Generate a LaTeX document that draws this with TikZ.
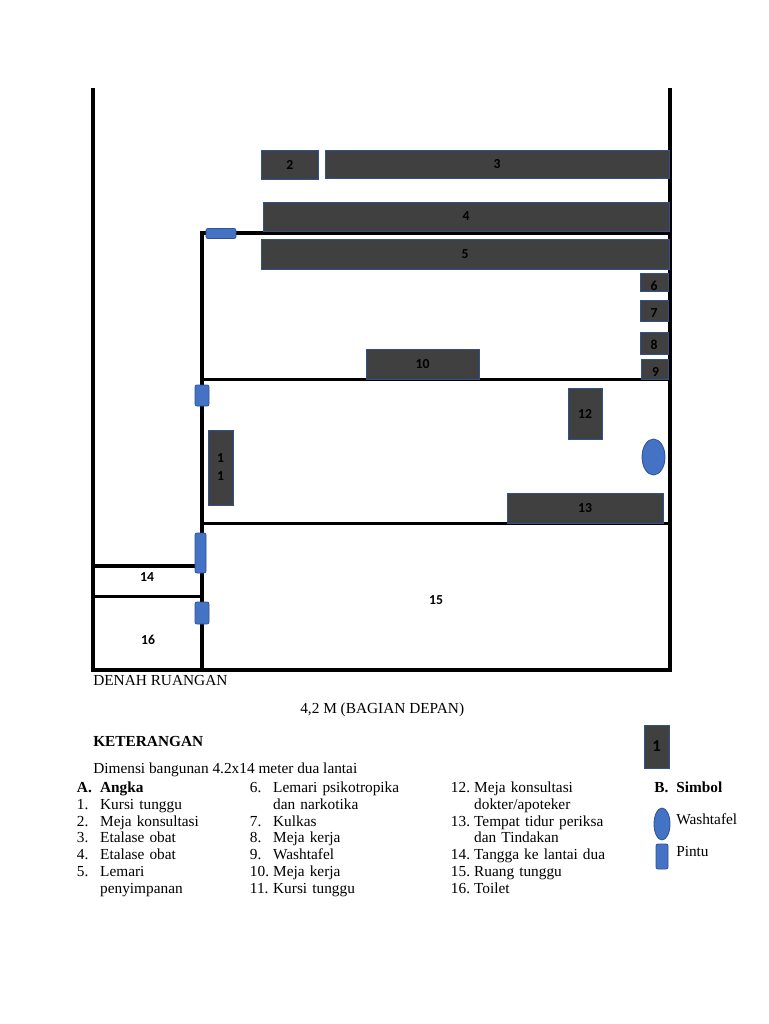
\documentclass[tikz,border=0pt]{standalone}
\usepackage{fontspec}
\setmainfont{Liberation Serif}
\newfontfamily\numfont{Carlito}
\usetikzlibrary{positioning,shapes.geometric}
\definecolor{furnfill}{HTML}{404040}
\definecolor{bluefill}{HTML}{4472C4}
\definecolor{blueline}{HTML}{2F528F}
\newcommand{\itm}[2]{\makebox[17.4pt][l]{#1}#2}

\begin{document}
\begin{tikzpicture}[x=0.75pt,y=-0.75pt,node distance=12.63pt,on grid,
	furn/.style 2 args={draw=blueline,fill=furnfill,line width=0.6pt,inner sep=0pt,minimum width=#1*0.75pt,minimum height=#2*0.75pt,font=\numfont\bfseries\fontsize{10.3}{13}\selectfont},
	door/.style 2 args={draw=blueline,fill=bluefill,line width=0.6pt,rounded corners=1.5pt,inner sep=0pt,minimum width=#1*0.75pt,minimum height=#2*0.75pt},
	basin/.style 2 args={ellipse,draw=blueline,fill=bluefill,line width=0.6pt,inner sep=0pt,minimum width=#1*0.75pt,minimum height=#2*0.75pt},
	numtext/.style={inner sep=0pt,font=\numfont\bfseries\fontsize{10.3}{13}\selectfont},
	plain/.style={inner sep=0pt,anchor=base west,font=\fontsize{11.5}{13}\selectfont},
	entry/.style={inner sep=0pt,text width=125pt,align=left,text height=7pt,text depth=2pt,font=\fontsize{11.5}{13}\selectfont},
	thick wall/.style={line width=3pt},
	thin wall/.style={line width=2.25pt}]
	\useasboundingbox (0,0) rectangle (768,1024);

	% walls
	\coordinate (lt) at (93,88);
	\coordinate (rt) at (670,88);
	\coordinate (lb) at (93,670);
	\coordinate (rb) at (670,670);
	\coordinate (it) at (202,233);
	\coordinate (ib) at (202,670);
	\coordinate (rt1) at (670,233);
	\coordinate (il2) at (202,379.5);
	\coordinate (rt2) at (670,379.5);
	\coordinate (il3) at (202,523.5);
	\coordinate (rt3) at (670,523.5);
	\coordinate (sl) at (93,566);
	\coordinate (sr) at (202,566);
	\coordinate (tl) at (93,596.5);
	\coordinate (tr) at (202,596.5);

	\draw[thick wall] (lt) -- (lb) -- (rb) -- (rt);
	\draw[thick wall] (rt1) -- (it) -- (ib);
	\draw[thin wall] (il2) -- (rt2);
	\draw[thin wall] (il3) -- (rt3);
	\draw[thick wall] (sl) -- (sr);
	\draw[thin wall] (tl) -- (tr);

	% furniture
	\node[furn={57.5}{29}]  (f2)  at (289.75,164.5) {2};
	\node[furn={344}{28}] (f3)  at (497,164)   {3};
	\node[furn={406}{29}] (f4)  at (466,216.5) {4};
	\node[furn={408}{30}] (f5)  at (465,254) {5};
	\node[furn={28}{18}]  (f6)  at (654,282)   {};
	\node[furn={28}{21}]  (f7)  at (654,310.5) {};
	\node[furn={28}{22}]  (f8)  at (654,343)   {};
	\node[furn={27}{20}]  (f9)  at (655,369) {};
	\node[furn={113}{30}] (f10) at (422.5,364.5) {10};
	\node[furn={25}{75},align=center] (f11) at (220.5,467.5) {1\\[0.5pt]1};
	\node[furn={34}{51}]  (f12) at (585,413.5) {12};
	\node[furn={156}{30}] (f13) at (585,508)   {13};

	\node[numtext] (n6)  at (654,286)   {6};
	\node[numtext] (n7)  at (654,313)   {7};
	\node[numtext] (n8)  at (654,345)   {8};
	\node[numtext] (n9)  at (655.5,372) {9};
	\node[numtext] (n14) at (147,577)   {14};
	\node[numtext] (n15) at (436,600)   {15};
	\node[numtext] (n16) at (148,640)   {16};

	% doors and basin
	\node[door={30}{10}] (d1) at (221,233.5) {};
	\node[door={14}{21}] (d2) at (202,395.5) {};
	\node[door={11}{40}] (d3) at (200.5,553) {};
	\node[door={14}{22}] (d4) at (202,613)   {};
	\node[basin={23}{36}] (wt) at (653.5,457) {};

	% legend
	\node[plain] (title) at (93,685)  {DENAH RUANGAN};
	\node[plain] (front) at (300,713) {4,2 M (BAGIAN DEPAN)};
	\node[plain,font=\bfseries\fontsize{11.5}{13}\selectfont] (ket) at (93,746) {KETERANGAN};
	\node[plain] (dim) at (93,773) {Dimensi bangunan 4.2x14 meter dua lantai};

	\node[entry,anchor=center] (a0) at (160.3,789) {\bfseries\itm{A.}{Angka}};
	\node[entry] (a1) [below =of a0] {\itm{1.}{Kursi tunggu}};
	\node[entry] (a2) [below =of a1] {\itm{2.}{Meja konsultasi}};
	\node[entry] (a3) [below =of a2] {\itm{3.}{Etalase obat}};
	\node[entry] (a4) [below =of a3] {\itm{4.}{Etalase obat}};
	\node[entry] (a5) [below =of a4] {\itm{5.}{Lemari}};
	\node[entry] (a5b) [below =of a5] {\itm{}{penyimpanan}};

	\node[entry,anchor=center] (b0) at (333.3,789) {\itm{6.}{Lemari psikotropika}};
	\node[entry] (b0b) [below =of b0] {\itm{}{dan narkotika}};
	\node[entry] (b1) [below =of b0b] {\itm{7.}{Kulkas}};
	\node[entry] (b2) [below =of b1] {\itm{8.}{Meja kerja}};
	\node[entry] (b3) [below =of b2] {\itm{9.}{Washtafel}};
	\node[entry] (b4) [below =of b3] {\itm{10.}{Meja kerja}};
	\node[entry] (b5) [below =of b4] {\itm{11.}{Kursi tunggu}};

	\node[entry,anchor=center] (c0) at (534.3,789) {\itm{12.}{Meja konsultasi}};
	\node[entry] (c0b) [below =of c0] {\itm{}{dokter/apoteker}};
	\node[entry] (c1) [below =of c0b] {\itm{13.}{Tempat tidur periksa}};
	\node[entry] (c1b) [below =of c1] {\itm{}{dan Tindakan}};
	\node[entry] (c2) [below =of c1b] {\itm{14.}{Tangga ke lantai dua}};
	\node[entry] (c3) [below =of c2] {\itm{15.}{Ruang tunggu}};
	\node[entry] (c4) [below =of c3] {\itm{16.}{Toilet}};

	\node[furn={25}{43},font=\numfont\bfseries\fontsize{12.5}{13}\selectfont] (f1) at (656.5,746.5) {1};
	\node[plain,font=\bfseries\fontsize{11.5}{13}\selectfont] (sb) at (654,792) {B.};
	\node[plain,font=\bfseries\fontsize{11.5}{13}\selectfont] (sym) at (676,792) {Simbol};
	\node[basin={16}{32}] (wtl) at (662,824) {};
	\node[plain] (wtt) at (676,824) {Washtafel};
	\node[door={12}{25}] (dl) at (662,856.5) {};
	\node[plain] (dlt) at (676,856) {Pintu};
\end{tikzpicture}
\end{document}
